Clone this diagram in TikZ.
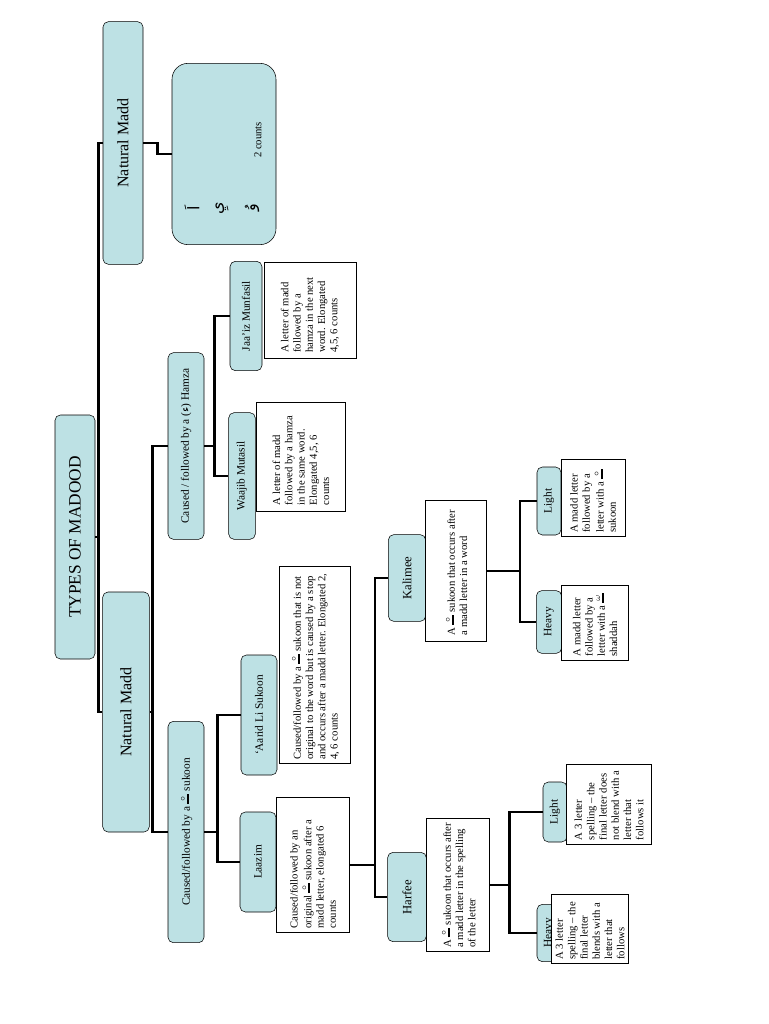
\documentclass[tikz,border=0pt]{standalone}
\usepackage{amsmath}
\usepackage{fontspec}
\setmainfont{Liberation Serif}
\newfontfamily\arab[Script=Arabic]{DejaVu Sans}
\usetikzlibrary{positioning}
\definecolor{boxblue}{RGB}{189,225,228}
\newcommand{\skn}{\raisebox{0.2ex}{$\overset{\scriptstyle\circ}{\rule{0.9em}{1.4pt}}$}}
\newcommand{\shd}{\raisebox{0.2ex}{$\overset{\scriptstyle\omega}{\rule{0.9em}{1.4pt}}$}}
\begin{document}
\begin{tikzpicture}[x=0.75pt,y=-0.75pt,
	lbl/.style={shape=rectangle,draw,rounded corners=4pt,fill=boxblue,rotate=90,inner sep=1pt,align=center},
	txt/.style={shape=rectangle,draw,fill=white,rotate=90,inner sep=3pt,align=flush left,font=\fontsize{8}{9.2}\selectfont},
	link/.style={line width=2pt}]
	\useasboundingbox (0,0) rectangle (768,1024);
	% create the nodes
	\node (types) [lbl,minimum width=183pt,minimum height=30pt,font=\fontsize{13}{15}\selectfont] at (75,537) {TYPES OF MADOOD};
	\node (nat) [lbl,minimum width=180pt,minimum height=35pt,font=\fontsize{12}{14}\selectfont] at (126,712) {Natural Madd};
	\node (nattop) [lbl,minimum width=182pt,minimum height=30pt,font=\fontsize{12}{14}\selectfont] at (123,143) {Natural Madd};
	\node (counts) [lbl,rounded corners=12pt,minimum width=136pt,minimum height=78pt] at (224,154) {};
	\node (two) [rotate=90,font=\fontsize{8}{9}\selectfont] at (258,140) {2 counts};
	\node (alif) [rotate=90,font=\arab\fontsize{12}{13}\selectfont] at (192,208) {اَ};
	\node (yaa) [rotate=90,font=\arab\fontsize{12}{13}\selectfont] at (222,208) {يِ};
	\node (waw) [rotate=90,font=\arab\fontsize{12}{13}\selectfont] at (252,208) {وُ};
	\node (hamza) [lbl,minimum width=140pt,minimum height=27pt,font=\fontsize{8.5}{9}\selectfont] at (186,446) {Caused / followed by a ({\arab ء}) Hamza};
	\node (waajib) [lbl,minimum width=95pt,minimum height=20pt,font=\fontsize{8.5}{9}\selectfont] at (242,476) {Waajib Mutasil};
	\node (waajibtxt) [txt,text width=72pt,minimum width=82pt,minimum height=67pt] at (301,457) {A letter of madd followed by a hamza in the same word. Elongated 4,5, 6 counts};
	\node (jaaiz) [lbl,minimum width=82pt,minimum height=24pt,font=\fontsize{8.5}{9}\selectfont] at (246,316) {Jaa'iz Munfasil};
	\node (jaaiztxt) [txt,text width=64pt,minimum width=72pt,minimum height=69pt] at (310,310) {A letter of madd followed by a hamza in the next word. Elongated 4,5, 6 counts};
	\node (sukoon) [lbl,minimum width=166pt,minimum height=27pt,font=\fontsize{8.5}{9}\selectfont] at (186,832) {Caused/followed by a \skn\ sukoon};
	\node (laazim) [lbl,minimum width=75pt,minimum height=27pt,font=\fontsize{8.5}{9}\selectfont] at (258,862) {Laazim};
	\node (laazimtxt) [txt,text width=95pt,minimum width=101pt,minimum height=55pt] at (313,865) {Caused/followed by an original \skn\ sukoon after a madd letter, elongated 6 counts};
	\node (aarid) [lbl,minimum width=90pt,minimum height=27pt,font=\fontsize{8.5}{9}\selectfont] at (259,715) {`Aarid Li Sukoon};
	\node (aaridtxt) [txt,text width=142pt,minimum width=148pt,minimum height=53pt] at (315,665) {Caused/followed by a \skn\ sukoon that is not original to the word but is caused by a stop and occurs after a madd letter. Elongated 2, 4, 6 counts};
	\node (kalimee) [lbl,minimum width=65pt,minimum height=28pt,font=\fontsize{9.5}{10}\selectfont] at (407,578) {Kalimee};
	\node (kalimeetxt) [txt,text width=96pt,minimum width=106pt,minimum height=46pt] at (456,571) {A \skn\ sukoon that occurs after a madd letter in a word};
	\node (klight) [lbl,minimum width=51pt,minimum height=18pt,font=\fontsize{8.5}{9}\selectfont] at (549,501) {Light};
	\node (klighttxt) [txt,text width=52pt,minimum width=58pt,minimum height=48pt] at (593,498) {A madd letter followed by a letter with a \skn\ sukoon};
	\node (kheavy) [lbl,minimum width=47pt,minimum height=19pt,font=\fontsize{8.5}{9}\selectfont] at (549,622) {Heavy};
	\node (kheavytxt) [txt,text width=50pt,minimum width=56pt,minimum height=50pt] at (595,623) {A madd letter followed by a letter with a \shd\ shaddah};
	\node (harfee) [lbl,minimum width=67pt,minimum height=29pt,font=\fontsize{9.5}{10}\selectfont] at (407,897) {Harfee};
	\node (harfeetxt) [txt,text width=94pt,minimum width=100pt,minimum height=47pt] at (458,885) {A \skn\ sukoon that occurs after a madd letter in the spelling of the letter};
	\node (hlight) [lbl,minimum width=45pt,minimum height=18pt,font=\fontsize{8.5}{9}\selectfont] at (555,812) {Light};
	\node (hlighttxt) [txt,text width=54pt,minimum width=58pt,minimum height=64pt] at (609,804) {A 3 letter spelling -- the final letter does not blend with a letter that follows it};
	\node (hheavy) [lbl,minimum width=43pt,minimum height=18pt,font=\fontsize{8.5}{9}\selectfont] at (549,933) {Heavy};
	\node (hheavytxt) [txt,text width=46pt,minimum width=50pt,minimum height=44pt] at (590,929) {A 3 letter spelling -- the final letter blends with a letter that follows};

	% connect the nodes
	\draw[link] (types.south) -- ++(3,0) |- (nattop.north);
	\draw[link] (types.south) ++(3,0) |- (nat.north);
	\draw[link] (nattop.south) -- ++(14,0) |- (counts.north);
	\draw[link] (nat.south) -- ++(3,0) |- (hamza.north);
	\draw[link] (nat.south) ++(3,0) |- (sukoon.north);
	\draw[link] (hamza.south) -- ++(10,0) |- (jaaiz.north);
	\draw[link] (hamza.south) ++(10,0) |- (waajib.north);
	\draw[link] (sukoon.south) -- ++(13,0) |- (aarid.north);
	\draw[link] (sukoon.south) ++(13,0) |- (laazim.north);
	\draw[link] (laazimtxt.south) -- ++(25,0) |- (kalimee.north);
	\draw[link] (laazimtxt.south) ++(25,0) |- (harfee.north);
	\draw[link] (kalimeetxt.south) -- ++(33,0) |- (klight.north);
	\draw[link] (kalimeetxt.south) ++(33,0) |- (kheavy.north);
	\draw[link] (harfeetxt.south) -- ++(20,0) |- (hlight.north);
	\draw[link] (harfeetxt.south) ++(20,0) |- (hheavy.north);
\end{tikzpicture}
\end{document}
